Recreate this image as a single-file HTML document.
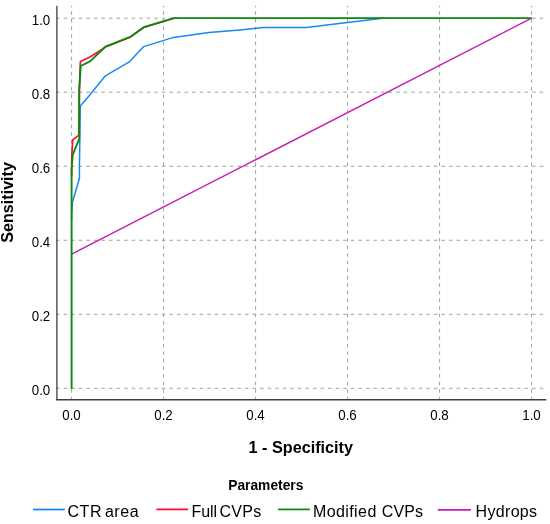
<!DOCTYPE html>
<html><head><meta charset="utf-8"><title>ROC</title>
<style>
html,body{margin:0;padding:0;background:#fff;}
svg{display:block;font-family:"Liberation Sans",sans-serif;}
.grid line{stroke:#9e9e9e;stroke-width:1;stroke-dasharray:3.5 4.056;}
.curves polyline{fill:none;stroke-width:1.65;stroke-linejoin:round;stroke-linecap:butt;}
.tick text{font-size:13.33px;fill:#000;}
.bold{font-weight:bold;fill:#000;}
.leg text{font-size:16px;fill:#000;}
.leg line{stroke-width:1.8;}
</style></head><body>
<svg width="550" height="524" viewBox="0 0 550 524">
<rect width="550" height="524" fill="#fff"/>
<g class="grid"><line x1="71.60" y1="5.7" x2="71.60" y2="399.5" stroke-dashoffset="1.86"/><line x1="56.1" y1="388.30" x2="543.2" y2="388.30" /><line x1="163.60" y1="5.7" x2="163.60" y2="399.5" stroke-dashoffset="1.86"/><line x1="56.1" y1="314.28" x2="543.2" y2="314.28" /><line x1="255.60" y1="5.7" x2="255.60" y2="399.5" stroke-dashoffset="1.86"/><line x1="56.1" y1="240.26" x2="543.2" y2="240.26" /><line x1="347.60" y1="5.7" x2="347.60" y2="399.5" stroke-dashoffset="1.86"/><line x1="56.1" y1="166.24" x2="543.2" y2="166.24" /><line x1="439.60" y1="5.7" x2="439.60" y2="399.5" stroke-dashoffset="1.86"/><line x1="56.1" y1="92.22" x2="543.2" y2="92.22" /><line x1="531.60" y1="5.7" x2="531.60" y2="399.5" stroke-dashoffset="1.86"/><line x1="56.1" y1="18.20" x2="543.2" y2="18.20" /></g>
<g class="curves">
<polyline points="71.6,254.1 531.6,18.2" stroke="#c61ab4" style="stroke-width:1.45"/>
<polyline points="71.6,220.0 71.6,215.0 72.3,202.7 79.5,178.0 79.4,170.0 80.3,106.0 90.0,94.8 105.4,75.8 129.7,61.6 143.7,46.6 173.4,37.4 209.0,32.6 240.0,30.0 263.3,27.6 306.3,27.6 382.5,18.2 386.0,18.2" stroke="#1989ea" style="stroke-width:1.5"/>
<polyline points="71.6,176.0 71.6,170.0 71.8,156.0 72.7,139.8 78.7,135.4 79.1,120.0 79.3,90.0 80.4,61.4 90.0,57.0 105.4,47.1 130.2,37.2 143.7,27.5 174.0,18.2 177.0,18.2" stroke="#fa0f2d"/>
<polyline points="71.6,389.0 71.6,170.0 72.7,154.8 79.3,138.7 79.1,120.0 79.3,90.0 80.7,66.0 90.0,61.4 105.4,46.7 130.2,36.9 143.7,27.2 174.0,18.1 531.6,18.1" stroke="#0e880e" style="stroke-width:1.9"/>
</g>
<line x1="56.9" y1="5.7" x2="56.9" y2="400.3" stroke="#3e3e3e" stroke-width="1.3"/>
<line x1="56.2" y1="399.75" x2="546.3" y2="399.75" stroke="#3e3e3e" stroke-width="1.3"/>
<g class="tick"><text transform="translate(50.3,395.40) scale(1,1.09)" text-anchor="end">0.0</text><text transform="translate(50.3,321.38) scale(1,1.09)" text-anchor="end">0.2</text><text transform="translate(50.3,247.36) scale(1,1.09)" text-anchor="end">0.4</text><text transform="translate(50.3,173.34) scale(1,1.09)" text-anchor="end">0.6</text><text transform="translate(50.3,99.32) scale(1,1.09)" text-anchor="end">0.8</text><text transform="translate(50.3,25.30) scale(1,1.09)" text-anchor="end">1.0</text><text transform="translate(71.50,420.1) scale(1,1.09)" text-anchor="middle">0.0</text><text transform="translate(163.50,420.1) scale(1,1.09)" text-anchor="middle">0.2</text><text transform="translate(255.50,420.1) scale(1,1.09)" text-anchor="middle">0.4</text><text transform="translate(347.50,420.1) scale(1,1.09)" text-anchor="middle">0.6</text><text transform="translate(439.50,420.1) scale(1,1.09)" text-anchor="middle">0.8</text><text transform="translate(531.50,420.1) scale(1,1.09)" text-anchor="middle">1.0</text></g>
<text class="bold" font-size="16.2" x="300.8" y="452.7" text-anchor="middle">1 - Specificity</text>
<text class="bold" font-size="16.15" transform="translate(13.2,202.4) rotate(-90)" text-anchor="middle">Sensitivity</text>
<text class="bold" font-size="13.8" x="265.8" y="489.7" text-anchor="middle">Parameters</text>
<g class="leg">
<line x1="33" y1="509.5" x2="64.8" y2="509.5" stroke="#1989ea"/>
<text x="67.5" y="516.5" letter-spacing="0.55">CTR</text><text x="104.9" y="516.5" letter-spacing="0.55">area</text>
<line x1="156.3" y1="509.4" x2="188" y2="509.4" stroke="#fa0f2d"/>
<text x="191.4" y="516.5">Full</text><text x="219.5" y="516.5" letter-spacing="0.3">CVPs</text>
<line x1="278.1" y1="509.4" x2="309.8" y2="509.4" stroke="#0e880e"/>
<text x="313" y="516.5" letter-spacing="0.4">Modified</text><text x="381.8" y="516.5" letter-spacing="0.1">CVPs</text>
<line x1="437.8" y1="509.8" x2="470.9" y2="509.8" stroke="#c61ab4"/>
<text x="475.6" y="516.5" letter-spacing="0.32">Hydrops</text>
</g>
</svg>
</body></html>
